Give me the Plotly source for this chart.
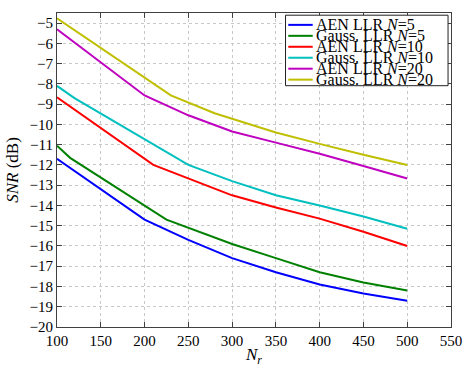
import plotly.graph_objects as go

# Data
nr_aen5 = [100, 200, 250, 300, 350, 400, 450, 500]
snr_aen5 = [-11.7, -14.7, -15.7, -16.6, -17.3, -17.9, -18.35, -18.7]

nr_gau5 = [100, 115, 225, 300, 350, 400, 450, 500]
snr_gau5 = [-11.05, -11.65, -14.7, -15.9, -16.6, -17.3, -17.8, -18.2]

nr_aen10 = [100, 210, 300, 350, 400, 450, 500]
snr_aen10 = [-8.66, -12.0, -13.5, -14.1, -14.65, -15.3, -16.0]

nr_gau10 = [100, 120, 250, 300, 350, 400, 450, 500]
snr_gau10 = [-8.1, -8.7, -12.0, -12.8, -13.5, -14.0, -14.55, -15.15]

nr_aen20 = [100, 200, 250, 300, 350, 400, 450, 500]
snr_aen20 = [-5.3, -8.57, -9.55, -10.35, -10.9, -11.45, -12.05, -12.67]

nr_gau20 = [100, 230, 280, 350, 400, 450, 500]
snr_gau20 = [-4.76, -8.57, -9.45, -10.4, -10.96, -11.5, -12.0]

names = ["AEN LLR <i>N</i>=5", "Gauss. LLR <i>N</i>=5",
         "AEN LLR <i>N</i>=10", "Gauss. LLR <i>N</i>=10",
         "AEN LLR <i>N</i>=20", "Gauss. LLR <i>N</i>=20"]
colors = ["#0000FF", "#008000", "#FF0000", "#00BFBF", "#BF00BF", "#BFBF00"]
xs = [nr_aen5, nr_gau5, nr_aen10, nr_gau10, nr_aen20, nr_gau20]
ys = [snr_aen5, snr_gau5, snr_aen10, snr_gau10, snr_aen20, snr_gau20]

x_ticks = list(range(100, 551, 50))
y_ticks = list(range(-20, -4, 1))

fig = go.Figure()
for x, y, n, c in zip(xs, ys, names, colors):
    fig.add_trace(go.Scatter(x=x, y=y, mode="lines", name=n,
                             line=dict(color=c, width=2), showlegend=False))

font_family = "Liberation Serif, DejaVu Serif, serif"
axis_common = dict(
    showline=True, linecolor="#404040", linewidth=1, mirror="ticks",
    ticks="inside", ticklen=5, tickcolor="#404040",
    showgrid=True, gridcolor="#c8c8c8", griddash="dot", gridwidth=1,
    zeroline=False, tickfont=dict(family=font_family, size=15, color="black"),
    ticklabeloverflow="allow",
)

# Compact boxed legend (paper coordinates), like the MATLAB legend
shapes = []
annotations = []
box_x0, box_x1 = 0.580, 0.9925
box_y1, box_y0 = 0.993, 0.7685
shapes.append(dict(type="rect", xref="paper", yref="paper",
                   x0=box_x0, x1=box_x1, y0=box_y0, y1=box_y1,
                   line=dict(color="#202020", width=1), fillcolor="white",
                   layer="above"))
row_h = 11.35 / 325.3
top_c = (338 - 25) / 325.3
for i, (n, c) in enumerate(zip(names, colors)):
    yc = top_c - i * row_h
    shapes.append(dict(type="line", xref="paper", yref="paper",
                       x0=0.587, x1=0.649, y0=yc, y1=yc,
                       line=dict(color=c, width=2), layer="above"))
    annotations.append(dict(xref="paper", yref="paper", x=0.655, y=yc,
                            xanchor="left", yanchor="middle", text=n,
                            showarrow=False, borderpad=0,
                            font=dict(family=font_family, size=16,
                                      color="black")))

fig.update_layout(
    width=474, height=373,
    margin=dict(l=53, r=19, t=13, b=35),
    paper_bgcolor="white", plot_bgcolor="white",
    font=dict(family=font_family, size=15, color="black"),
    xaxis=dict(range=[100, 550], tickvals=x_ticks, **axis_common,
               title=dict(text="<i>N<sub>r</sub></i>", standoff=0,
                          font=dict(size=17))),
    yaxis=dict(range=[-20, -4.5], tickvals=y_ticks, **axis_common,
               title=dict(text="<i>SNR</i> (dB)", standoff=6,
                          font=dict(size=17))),
    shapes=shapes,
    annotations=annotations,
    showlegend=False,
)

fig.write_html("out.html",
               config={"displayModeBar": False},
               post_script="document.body.style.margin='0';"
                           "document.body.style.overflow='hidden';")
